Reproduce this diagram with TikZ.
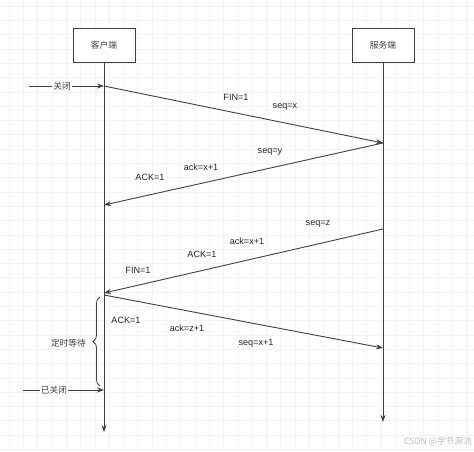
\documentclass[tikz,border=0pt]{standalone}
\usepackage{fontspec}
\setmainfont{Liberation Sans}
\newfontfamily\cjk{Noto Sans CJK SC}
\usetikzlibrary{arrows.meta,decorations.pathreplacing}
\tikzset{
  gridline/.style={gray!9,line width=0.5pt},
  party/.style={draw=black!75,line width=1pt,fill=white,minimum width=62pt,minimum height=34pt,inner sep=0pt,font=\cjk\fontsize{8.7}{10}\selectfont,text=black!75},
  msg/.style={draw=black!75,line width=0.9pt,-{Stealth[length=7pt,width=5pt]}},
  lbl/.style={font=\fontsize{9.1}{10}\selectfont,text=black!85,inner sep=1pt},
  cnlbl/.style={font=\cjk\fontsize{8.7}{10}\selectfont,text=black!75,inner sep=1pt}
}
\begin{document}
\begin{tikzpicture}[x=1pt,y=-1pt]
  \useasboundingbox[fill=white] (0,0) rectangle (474,451);
  % background grid
  \foreach \i in {0,...,32} \draw[gridline] ({9+14.3*\i},0) -- ({9+14.3*\i},451);
  \foreach \j in {0,...,31} \draw[gridline] (0,{6+14.3*\j}) -- (474,{6+14.3*\j});
  % the two parties
  \node[party] (client) at (104,45) {客户端};
  \node[party] (server) at (383,45) {服务端};
  \coordinate (cEnd) at (104,432);
  \coordinate (sEnd) at (383,422);
  \draw[msg] (client.south) -- (cEnd);
  \draw[msg] (server.south) -- (sEnd);
  % points on the lifelines
  \coordinate (c1) at (104,86);
  \coordinate (s1) at (383,143);
  \coordinate (c2) at (104,205);
  \coordinate (s2) at (383,229);
  \coordinate (c3) at (104,293);
  \coordinate (c4) at (104,295);
  \coordinate (s3) at (383,348);
  \coordinate (c5) at (104,390);
  \coordinate (in1) at (29,86);
  \coordinate (in2) at (23,390);
  % state arrows on the left
  \draw[msg] (in1) -- (c1);
  \node[cnlbl,fill=white] (closeLbl) at (62,86) {关闭};
  \draw[msg] (in2) -- (c5);
  \node[cnlbl,fill=white] (closedLbl) at (54,390) {已关闭};
  % the four messages
  \draw[msg] (c1) -- (s1);
  \draw[msg] (s1) -- (c2);
  \draw[msg] (s2) -- (c3);
  \draw[msg] (c4) -- (s3);
  % labels
  \node[lbl] (fin1) at (236,97) {FIN=1};
  \node[lbl] (seqx) at (285,107) {seq=x};
  \node[lbl] (seqy) at (270,152) {seq=y};
  \node[lbl] (ackx1) at (201,167) {ack=x+1};
  \node[lbl] (ack1a) at (150,177) {ACK=1};
  \node[lbl] (seqz) at (318,224) {seq=z};
  \node[lbl] (ackx2) at (247,241) {ack=x+1};
  \node[lbl] (ack1b) at (202,254) {ACK=1};
  \node[lbl] (fin2) at (138,270) {FIN=1};
  \node[lbl] (ack1c) at (126,320) {ACK=1};
  \node[lbl] (ackz1) at (187,328) {ack=z+1};
  \node[lbl] (seqx1) at (256,343) {seq=x+1};
  % timed wait brace
  \coordinate (bTop) at (100,297);
  \coordinate (bBot) at (100,386);
  \draw[black!75,line width=0.8pt,decorate,decoration={brace,amplitude=7pt}] (bBot) -- (bTop);
  \node[cnlbl,anchor=east] (waitLbl) at (87,343) {定时等待};
  % watermark
  \node[font=\cjk\fontsize{8.7}{10}\selectfont,text=black!25,anchor=east,inner sep=0pt] (mark) at (472,442) {CSDN @字节源流};
\end{tikzpicture}
\end{document}
